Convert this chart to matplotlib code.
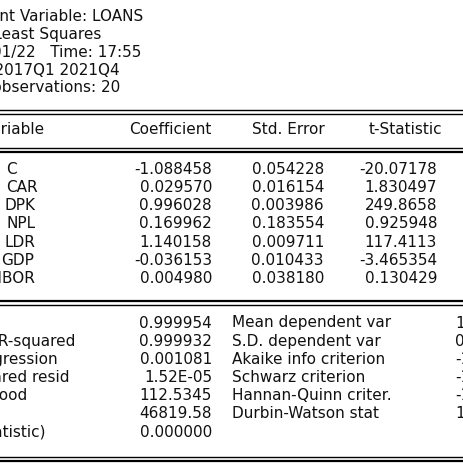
import matplotlib
matplotlib.use("Agg")
import matplotlib.pyplot as plt

header = ["Dependent Variable: LOANS", "Method: Least Squares",
          "Date: 02/01/22   Time: 17:55", "Sample: 2017Q1 2021Q4",
          "Included observations: 20"]
header_end = [143, 101, 141, 120, 120]

variables = ["C", "CAR", "DPK", "NPL", "LDR", "GDP", "JIBOR"]
coef = ["-1.088458", "0.029570", "0.996028", "0.169962", "1.140158", "-0.036153", "0.004980"]
stderr = ["0.054228", "0.016154", "0.003986", "0.183554", "0.009711", "0.010433", "0.038180"]
tstat = ["-20.07178", "1.830497", "249.8658", "0.925948", "117.4113", "-3.465354", "0.130429"]

stat_left = ["R-squared", "Adjusted R-squared", "S.E. of regression", "Sum squared resid",
             "Log likelihood", "F-statistic", "Prob(F-statistic)"]
stat_left_val = ["0.999954", "0.999932", "0.001081", "1.52E-05", "112.5345", "46819.58", "0.000000"]
stat_right = ["Mean dependent var", "S.D. dependent var", "Akaike info criterion",
              "Schwarz criterion", "Hannan-Quinn criter.", "Durbin-Watson stat"]
stat_right_val = ["13.53210", "0.130994", "-10.55345", "-10.20494", "-10.48541", "1.867401"]

fig = plt.figure(figsize=(4.63, 4.63), dpi=100)
ax = fig.add_axes([0, 0, 1, 1])
ax.set_xlim(0, 463)
ax.set_ylim(463, 0)
ax.axis("off")

kw = dict(fontsize=11, family="DejaVu Sans", color="#111111", va="center")

for i, (t, e) in enumerate(zip(header, header_end)):
    ax.text(e, 16 + 18 * i, t, ha="right", **kw)

ax.text(45, 130, "Variable", ha="right", **kw)
ax.text(170, 130, "Coefficient", ha="center", **kw)
ax.text(288, 130, "Std. Error", ha="center", **kw)
ax.text(405, 130, "t-Statistic", ha="center", **kw)

var_end = [17, 38, 36, 36, 35, 34, 36]
for i, v in enumerate(variables):
    y = 169 + 18.3 * i
    ax.text(var_end[i], y, v, ha="right", **kw)
    ax.text(212, y, coef[i], ha="right", **kw)
    ax.text(324, y, stderr[i], ha="right", **kw)
    ax.text(437, y, tstat[i], ha="right", **kw)

lab_end = [-5, 75, 58, 70, 27, -5, 46]
for i, s in enumerate(stat_left):
    y = 323 + 18.2 * i
    ax.text(lab_end[i], y, s, ha="right", **kw)
    ax.text(212, y, stat_left_val[i], ha="right", **kw)
for i, s in enumerate(stat_right):
    y = 323 + 18.2 * i
    ax.text(232, y, s, ha="left", **kw)
    ax.text(455, y, stat_right_val[i], ha="left", **kw)

for y, lw in [(110, 1.0), (114, 1.0), (148, 1.0), (152, 1.6), (301, 1.6), (305, 1.0),
              (457, 1.0), (461, 1.6)]:
    ax.plot([0, 463], [y, y], color="black", lw=lw)

fig.savefig("out.png", dpi=100, facecolor="white")
